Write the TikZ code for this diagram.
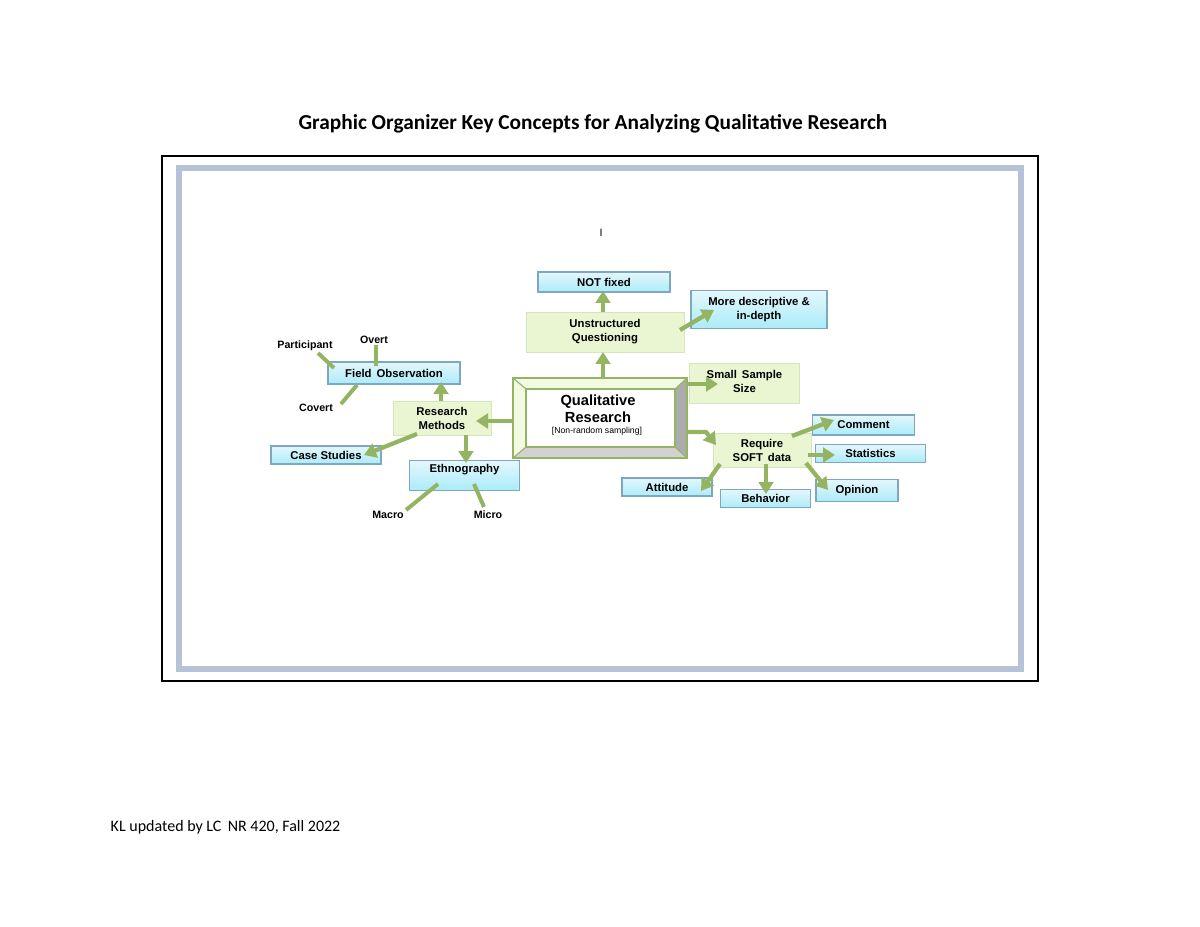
\documentclass[tikz,border=0pt]{standalone}
\usepackage{fontspec}
\setmainfont{Carlito}
\newfontfamily\arial{Liberation Sans}
\usetikzlibrary{arrows.meta}
\definecolor{bluefill}{HTML}{BDEAF8}
\definecolor{bluedraw}{HTML}{7FA7BF}
\definecolor{greenfill}{HTML}{EAF6D2}
\definecolor{greendraw}{HTML}{D6E6BC}
\definecolor{arr}{HTML}{95B462}
\definecolor{frame}{HTML}{A4B4CC}
\begin{document}
\begin{tikzpicture}[x=0.75pt,y=-0.75pt,
  bbox/.style={draw=bluedraw,line width=0.8pt,top color=white!60!bluefill,bottom color=bluefill!90!cyan,inner sep=0pt,font=\arial\bfseries\fontsize{8.5}{10}\selectfont,align=center},
  gbox/.style={draw=greendraw,line width=0.6pt,fill=greenfill,inner sep=0pt,font=\arial\bfseries\fontsize{8.5}{10.5}\selectfont,align=center},
  lbl/.style={font=\arial\bfseries\fontsize{8}{9}\selectfont,inner sep=1pt},
  ar/.style={draw=arr,line width=3.2pt,-{Triangle[length=9pt,width=11pt]}},
  ln/.style={draw=arr,line width=3pt}]
\useasboundingbox (0,0) rectangle (1200,927);
\node[font=\bfseries\fontsize{16}{19}\selectfont] (title) at (593,124) {Graphic Organizer Key Concepts for Analyzing Qualitative Research};
\node[font=\fontsize{12}{14}\selectfont,anchor=west] (foot) at (106,827) {KL updated by LC\, NR 420, Fall 2022};
\draw[line width=1.5pt] (162,156) rectangle (1038,681);
\draw[draw=frame!80,line width=5pt] (179,168) rectangle (1021,669);
\node[font=\arial\fontsize{8}{9}\selectfont] (cur) at (601,233) {I};
% central
\fill[gray!45] (513,378) rectangle (687,458);
\fill[gray!65] (675,389) -- (687,378) -- (687,458) -- (675,447) -- cycle;
\fill[gray!35] (526,447) -- (675,447) -- (687,458) -- (513,458) -- cycle;
\fill[greenfill!60!white] (513,378) -- (687,378) -- (675,389) -- (526,389) -- cycle;
\fill[greenfill!60!white] (513,378) -- (526,389) -- (526,447) -- (513,458) -- cycle;
\fill[white] (526,389) rectangle (675,447);
\draw[arr,line width=1.5pt] (513,378) rectangle (687,458);
\draw[arr,line width=1.2pt] (526,389) rectangle (675,447);
\draw[arr,line width=0.8pt] (513,378)--(526,389) (687,378)--(675,389) (513,458)--(526,447) (687,458)--(675,447);
\node[align=center,font=\arial\bfseries\fontsize{11}{13}\selectfont] (qrt) at (598,409) {Qualitative\\Research};
\node[font=\arial\fontsize{6.5}{7}\selectfont] (qrs) at (597,431) {[Non-random sampling]};
% blue boxes
\node[bbox,minimum width=99pt,minimum height=15pt] (nf) at (604,282) {NOT fixed};
\node[bbox,minimum width=102pt,minimum height=28pt] (md) at (759,309.5) {More descriptive \&\\in-depth};
\node[bbox,minimum width=99pt,minimum height=16.5pt] (fo) at (394,373) {Field\, Observation};
\node[bbox,minimum width=82.5pt,minimum height=13.5pt] (cs) at (326,455) {Case Studies};
\node[bbox,minimum width=83pt,minimum height=22pt] (et) at (464.5,475.5) {};
\node[font=\arial\bfseries\fontsize{8.5}{10}\selectfont] (ett) at (464.5,470) {Ethnography};
\node[bbox,minimum width=77pt,minimum height=15pt] (cm) at (863.5,425) {Comment};
\node[bbox,minimum width=83pt,minimum height=13pt] (st) at (870.5,453.5) {Statistics};
\node[bbox,minimum width=67.5pt,minimum height=13.5pt] (at) at (667,487) {Attitude};
\node[bbox,minimum width=68pt,minimum height=14pt] (be) at (765.5,498.5) {Behavior};
\node[bbox,minimum width=61.5pt,minimum height=16pt] (op) at (857,490.5) {Opinion};
% green boxes
\node[gbox,minimum width=118.5pt,minimum height=30pt] (uq) at (605,332) {Unstructured\\Questioning};
\node[gbox,minimum width=83pt,minimum height=30pt] (ss) at (744.5,383) {};
\node[font=\arial\bfseries\fontsize{8.5}{10.5}\selectfont,align=center] (sst) at (744.5,381) {Small\, Sample\\Size};
\node[gbox,minimum width=73.5pt,minimum height=25.5pt] (rm) at (442,418) {Research\\Methods};
\node[gbox,minimum width=73.5pt,minimum height=25.5pt] (rs) at (762,450) {Require\\SOFT\, data};
% labels
\node[lbl] (pa) at (305,346) {Participant};
\node[lbl] (ov) at (374,340) {Overt};
\node[lbl] (co) at (316,408) {Covert};
\node[lbl] (ma) at (388,515) {Macro};
\node[lbl] (mi) at (488,515) {Micro};
% arrows
\draw[ar] (603,378) -- (603,352);
\draw[ar] (603,312) -- (603,291);
\draw[ar] (680,330) -- (714,310);
\draw[ar] (687,384) -- (718,384);
\draw[ar] (687,432) -- (706,432) -- (716,445);
\draw[ar] (513,421) -- (476,421);
\draw[ar] (441,401) -- (441,382);
\draw[ar] (417,434) -- (364,455);
\draw[ar] (466,435) -- (466,463);
\draw[ln] (318,353) -- (334,368);
\draw[ln] (376,345) -- (376,366);
\draw[ln] (341,404) -- (357,385);
\draw[ln] (406,510) -- (438,484);
\draw[ln] (484,507) -- (474,484);
\draw[ar] (792,436) -- (834,420);
\draw[ar] (808,455) -- (835,455);
\draw[ar] (720,464) -- (701,491);
\draw[ar] (766,464) -- (766,494);
\draw[ar] (806,463) -- (828,490);
\end{tikzpicture}
\end{document}
